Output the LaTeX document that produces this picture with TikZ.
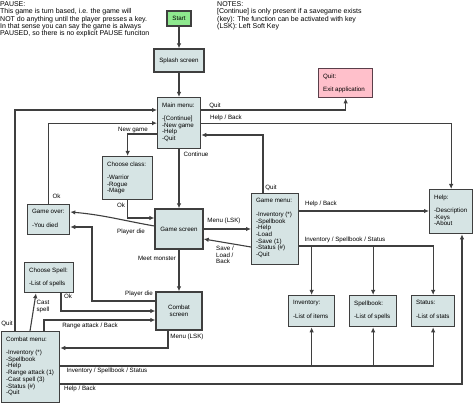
\documentclass[tikz,border=0pt]{standalone}
\usepackage{fontspec}
\setmainfont{Liberation Sans}
\usetikzlibrary{arrows.meta}
\usetikzlibrary{positioning}

\definecolor{screenfill}{HTML}{D6E4E4}
\definecolor{framegray}{HTML}{3F3F3F}
\definecolor{startgreen}{HTML}{8EE88E}
\definecolor{quitpink}{HTML}{FFC0CB}
\definecolor{quitframe}{HTML}{5A3F4A}

\newcommand{\notesize}{\fontsize{7}{7.3}\selectfont}
\newcommand{\diasize}{\fontsize{6.2}{6.7}\selectfont}

\tikzset{
	>={Latex[length=5pt,width=4.5pt]},
	screen/.style={draw=framegray, fill=screenfill, line width=1.3pt, font=\diasize, align=center},
	menu/.style={screen, anchor=north west, inner xsep=4.5pt, inner ysep=5pt},
	link/.style={draw=framegray, line width=1.1pt, ->},
	edgelabel/.style={font=\diasize, inner sep=0pt, align=left},
	notes/.style={font=\notesize, inner sep=0pt, align=left, anchor=north west},
}

% name, top left corner, width, height, text
\newcommand{\menubox}[6][]{%
	\node[menu, minimum width=#4, minimum height=#5, #1] (#2) at (#3)
		{\parbox[c][\dimexpr#5-10pt\relax][t]{\dimexpr#4-9pt\relax}{\raggedright #6}};}

\begin{document}
\begin{tikzpicture}[x=1pt, y=-1pt]
	\useasboundingbox (0,0) rectangle (474,403);

	\node[notes] (pause) at (0,1.5) {PAUSE:\\This game is turn based, i.e. the game will\\NOT do anything until the player presses a key.\\In that sense you can say the game is always\\PAUSED, so there is no explicit PAUSE funciton};
	\node[notes] (notes) at (217,1.5) {NOTES:\\{[Continue]} is only present if a savegame exists\\(key): The function can be activated with key\\(LSK): Left Soft Key};

	% screens
	\node[screen, fill=startgreen, minimum width=24pt, minimum height=15pt] (start) at (179,18.5) {Start};
	\node[screen, minimum width=50pt, minimum height=23pt] (splash) at (179,60.5) {Splash screen};
	\node[screen, minimum width=48pt, minimum height=40pt] (gamescreen) at (179,229) {Game screen};
	\node[screen, minimum width=46pt, minimum height=38pt] (combatscreen) at (179,311) {Combat\\screen};
	\menubox{mainmenu}{157,97}{43pt}{51pt}{Main menu:\\[6.7pt]-[Continue]\\-New game\\-Help\\-Quit}
	\menubox[fill=quitpink, draw=quitframe]{quitbox}{318,68}{54pt}{29pt}{Quit:\\[6.7pt]Exit application}
	\menubox{chooseclass}{102,156}{50pt}{43pt}{Choose class:\\[6.7pt]-Warrior\\-Rogue\\-Mage}
	\menubox{gameover}{27,204}{42pt}{30pt}{Game over:\\[6.7pt]-You died}
	\menubox{gamemenu}{251,193}{47pt}{71pt}{Game menu:\\[6.7pt]-Inventory (*)\\-Spellbook\\-Help\\-Load\\-Save (1)\\-Status (\#)\\-Quit}
	\menubox{help}{429,189}{43pt}{44pt}{Help:\\[6.7pt]-Description\\-Keys\\-About}
	\menubox{inventory}{288,295}{46pt}{31pt}{Inventory:\\[6.7pt]-List of items}
	\menubox{spellbook}{349,295}{47pt}{31pt}{Spellbook:\\[6.7pt]-List of spells}
	\menubox{status}{411,295}{43pt}{31pt}{Status:\\[6.7pt]-List of stats}
	\menubox{choosespell}{24,262}{49pt}{30pt}{Choose Spell:\\[6.7pt]-List of spells}
	\menubox{combatmenu}{1,331}{58pt}{71pt}{Combat menu:\\[6.7pt]-Inventory (*)\\-Spellbook\\-Help\\-Range attack (1)\\-Cast spell (3)\\-Status (\#)\\-Quit}

	% transitions
	\draw[link] (start) -- (splash);
	\draw[link] (splash) -- (mainmenu.north -| splash);
	\draw[link] (mainmenu.east |- 0,110) -| (quitbox);
	\draw[link] (mainmenu.east) -| (help);
	\draw[link] (gamemenu.north -| 263,0) |- (mainmenu.east |- 0,135);
	\draw[link] (mainmenu.west |- 0,134) -| (chooseclass);
	\draw[link] (mainmenu.south -| gamescreen) -- (gamescreen);
	\draw[link] (chooseclass) |- (gamescreen.west |- 0,218);
	\draw[link] (gamescreen.west |- 0,226) to[out=170, in=-5] (gameover.east |- 0,212);
	\draw[link] (combatscreen.west |- 0,301) -- (92,301) |- (gameover.east |- 0,227);
	\draw[link] (gameover) |- (mainmenu.west);
	\draw[link] (combatmenu.north -| 15,0) |- (mainmenu.west |- 0,110);
	\draw[link] (gamescreen.east |- 0,229) -- (gamemenu.west |- 0,229);
	\draw[link] (gamemenu.west |- 0,247) -- (gamescreen.east |- 0,239);
	\draw[link] (gamescreen) -- (combatscreen);
	\draw[link] (gamemenu.east |- 0,211) -- (help.west |- 0,211);
	\draw[link] (gamemenu.east |- 0,246) -| (status);
	\draw[link] (inventory |- 0,246) -- (inventory);
	\draw[link] (spellbook |- 0,246) -- (spellbook);
	\draw[link] (combatmenu.east |- 0,366) -| (status);
	\draw[link] (inventory |- 0,366) -- (inventory);
	\draw[link] (spellbook |- 0,366) -- (spellbook);
	\draw[link] (combatmenu.east |- 0,384) -| (help.south -| 462,0);
	\draw[link] (combatscreen.south -| 168,0) |- (combatmenu.east |- 0,348);
	\draw[link] (combatmenu.north -| 44,0) |- (combatscreen.west |- 0,320);
	\draw[link] (choosespell.south -| 61,0) |- (combatscreen.west |- 0,311);
	\draw[link] (combatmenu.north -| 30,0) -- (choosespell.south -| 36,0);

	% labels
	\node[edgelabel] (lquitmain) at (215,105.5) {Quit};
	\node[edgelabel] (lhelpmain) at (226,118) {Help / Back};
	\node[edgelabel] (lquitgame) at (271,187.5) {Quit};
	\node[edgelabel] (lnewgame) at (133,130) {New game};
	\node[edgelabel] (lcontinue) at (196,154) {Continue};
	\node[edgelabel] (lokclass) at (121,205) {Ok};
	\node[edgelabel] (ldiegame) at (131,232) {Player die};
	\node[edgelabel] (lokover) at (56.5,196) {Ok};
	\node[edgelabel] (lquitcombat) at (7,324) {Quit};
	\node[edgelabel] (lmenugame) at (224,221) {Menu (LSK)};
	\node[edgelabel] (lsave) at (225,255) {Save /\\Load /\\Back};
	\node[edgelabel] (lmonster) at (157,258) {Meet monster};
	\node[edgelabel] (lhelpgame) at (321,204) {Help / Back};
	\node[edgelabel] (lbooksgame) at (345,240) {Inventory / Spellbook / Status};
	\node[edgelabel] (lbookscombat) at (107,371) {Inventory / Spellbook / Status};
	\node[edgelabel] (lhelpcombat) at (80,389) {Help / Back};
	\node[edgelabel] (lmenucombat) at (187,337) {Menu (LSK)};
	\node[edgelabel] (lrange) at (90,326) {Range attack / Back};
	\node[edgelabel] (lokspell) at (68,296) {Ok};
	\node[edgelabel] (lcast) at (43,306.5) {Cast\\spell};
	\node[edgelabel] (ldiecombat) at (139,294) {Player die};
\end{tikzpicture}
\end{document}
